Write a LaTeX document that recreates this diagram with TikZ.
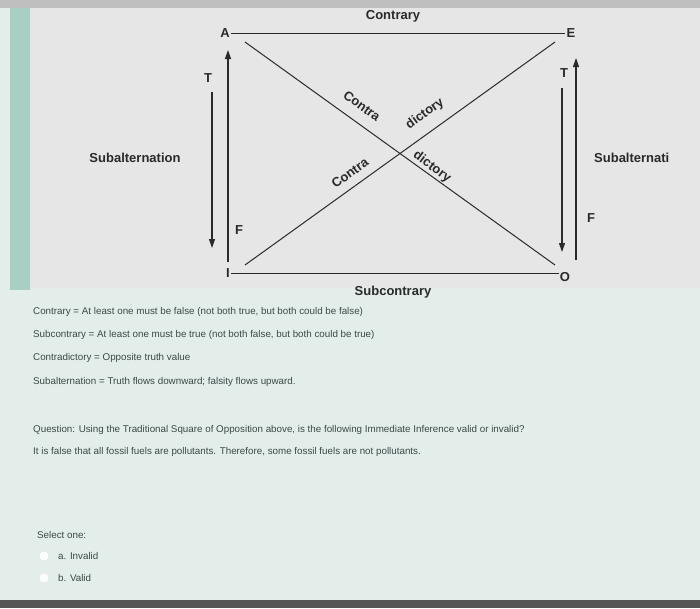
\documentclass[tikz,border=0pt]{standalone}
\usepackage{fontspec}
\setmainfont{Liberation Sans}
\usetikzlibrary{arrows.meta}
\definecolor{bgg}{HTML}{E3EEEA}
\definecolor{topg}{HTML}{E6E6E6}
\definecolor{strip}{HTML}{A8CFC4}
\definecolor{ink}{HTML}{2A2A2A}
\definecolor{txt}{HTML}{3A4A48}
\tikzset{lab/.style={font=\bfseries\fontsize{13}{14}\selectfont,text=ink,inner sep=1pt},
 body/.style={font=\fontsize{9.8}{11}\selectfont,text=txt,anchor=west,inner sep=0pt},
 ln/.style={ink,line width=1pt},
 arr/.style={ink,line width=1.2pt,-{Triangle[length=9pt,width=6pt]}}}
\begin{document}
\begin{tikzpicture}[x=1pt,y=-1pt]
\useasboundingbox (0,0) rectangle (700,608);
\fill[bgg] (0,0) rectangle (700,608);
\fill[topg] (30,8) rectangle (700,288);
\fill[strip] (10,8) rectangle (30,290);
\fill[gray!50] (0,0) rectangle (700,8);
\fill[ink!80] (0,600) rectangle (700,608);
\node[lab] (A) at (225,33) {A};
\node[lab] (E) at (571,33) {E};
\node[lab] (I) at (228,273) {I};
\node[lab] (O) at (565,277) {O};
\node[lab] (ctr) at (393,16) {Contrary};
\node[lab] (sub) at (393,292) {Subcontrary};
\draw[ln] (A) -- (E);
\draw[ln] (I.east) -- (I.east -| O.west);
\draw[ln] (245,42) coordinate (a1) -- (555,265) coordinate (o1);
\draw[ln] (555,42) coordinate (e1) -- (245,265) coordinate (i1);
\node[lab,rotate=-36] (c1) at (362,106) {Contra};
\node[lab,rotate=36] (d1) at (425,114) {dictory};
\node[lab,rotate=36] (c2) at (350,173) {Contra};
\node[lab,rotate=-36] (d2) at (432,167) {dictory};
\node[lab] (T1) at (208,78) {T};
\node[lab] (F1) at (239,230) {F};
\node[lab] (T2) at (564,73) {T};
\node[lab] (F2) at (591,218) {F};
\coordinate (l1a) at (228,262); \coordinate (l1b) at (228,50);
\coordinate (l2a) at (212,92); \coordinate (l2b) at (212,248);
\coordinate (r1a) at (576,260); \coordinate (r1b) at (576,58);
\coordinate (r2a) at (562,88); \coordinate (r2b) at (562,252);
\draw[arr] (l1a) -- (l1b);
\draw[arr] (l2a) -- (l2b);
\draw[arr] (r1a) -- (r1b);
\draw[arr] (r2a) -- (r2b);
\node[lab] (sl) at (135,158) {Subalternation};
\node[lab,anchor=west] (sr) at (593,158) {Subalternati};
\node[body] (t1) at (33,312) {Contrary = At least one must be false (not both true, but both could be false)};
\node[body] (t2) at (33,335) {Subcontrary = At least one must be true (not both false, but both could be true)};
\node[body] (t3) at (33,358) {Contradictory = Opposite truth value};
\node[body] (t4) at (33,382) {Subalternation = Truth flows downward; falsity flows upward.};
\node[body] (q1) at (33,430) {Question: Using the Traditional Square of Opposition above, is the following Immediate Inference valid or invalid?};
\node[body] (q2) at (33,452) {It is false that all fossil fuels are pollutants. Therefore, some fossil fuels are not pollutants.};
\node[body] (s1) at (37,535) {Select one:};
\draw[white!80!gray,fill=white!90!bgg] (44,556) circle (5);
\draw[white!80!gray,fill=white!90!bgg] (44,578) circle (5);
\node[body] (oa) at (58,556) {a. Invalid};
\node[body] (ob) at (58,578) {b. Valid};
\end{tikzpicture}
\end{document}
